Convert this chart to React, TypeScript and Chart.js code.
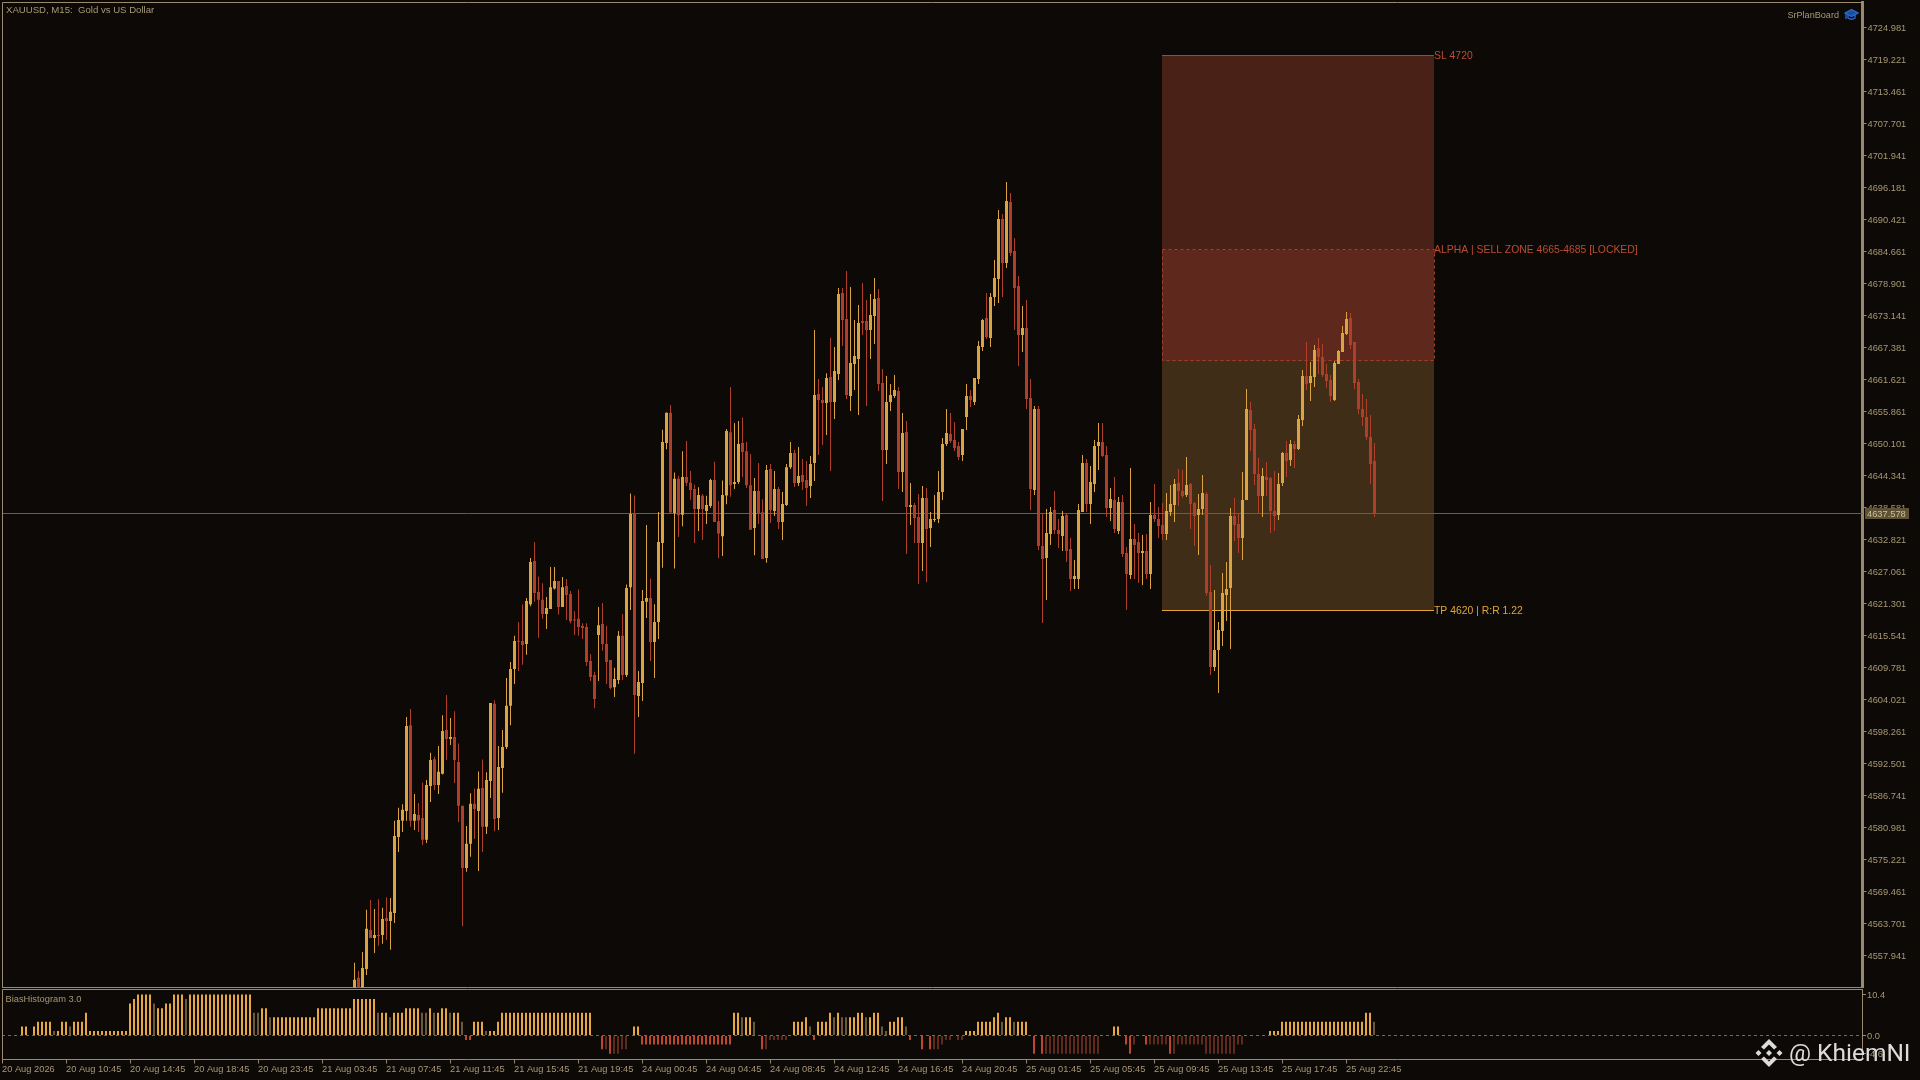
import React, { useEffect, useRef } from "react";
import { Chart, registerables } from "chart.js";

Chart.register(...registerables);

// ---------- data ----------
const slotCount = 466;
const firstCandleIndex = 88;

const timeLabels = [
  "20 Aug 2026", "20 Aug 10:45", "20 Aug 14:45", "20 Aug 18:45", "20 Aug 23:45", "21 Aug 03:45",
  "21 Aug 07:45", "21 Aug 11:45", "21 Aug 15:45", "21 Aug 19:45", "24 Aug 00:45", "24 Aug 04:45",
  "24 Aug 08:45", "24 Aug 12:45", "24 Aug 16:45", "24 Aug 20:45", "25 Aug 01:45", "25 Aug 05:45",
  "25 Aug 09:45", "25 Aug 13:45", "25 Aug 17:45", "25 Aug 22:45",
];
const barsPerTimeLabel = 16;

const priceTicks = [
  4724.981, 4719.221, 4713.461, 4707.701, 4701.941, 4696.181, 4690.421, 4684.661, 4678.901, 4673.141,
  4667.381, 4661.621, 4655.861, 4650.101, 4644.341, 4638.581, 4632.821, 4627.061, 4621.301, 4615.541,
  4609.781, 4604.021, 4598.261, 4592.501, 4586.741, 4580.981, 4575.221, 4569.461, 4563.701, 4557.941,
];
const biasTicks = [10.4, 0, -4.62];

const highs = [
  4556.63,4555.13,4558.55,4566.16,4567.94,4566.30,4568.08,4566.52,4568.44,4568.30,
  4582.18,4584.52,4585.16,4600.89,4602.32,4587.02,4585.38,4589.08,4589.51,4594.42,
  4593.71,4595.63,4601.18,4604.81,4600.68,4601.89,4596.12,4584.88,4581.25,4587.16,
  4588.01,4591.07,4593.21,4590.93,4603.38,4603.88,4595.63,4598.55,4607.87,4610.79,
  4615.48,4617.97,4621.10,4622.31,4629.50,4632.35,4626.16,4624.95,4622.46,4627.87,
  4627.87,4625.37,4626.09,4625.73,4623.53,4619.90,4623.81,4617.76,4617.76,4612.21,
  4609.01,4620.68,4621.39,4617.26,4611.14,4609.72,4616.34,4619.40,4624.73,4641.10,
  4640.75,4609.15,4623.74,4635.41,4625.80,4621.18,4637.76,4652.56,4655.69,4657.05,
  4644.88,4644.24,4648.72,4650.57,4645.16,4642.74,4642.24,4641.03,4640.68,4643.74,
  4646.80,4639.75,4643.45,4652.70,4660.25,4653.77,4654.13,4654.77,4650.36,4648.22,
  4643.88,4646.58,
  4640.05,4646.23,4646.41,4645.15,4642.27,4641.37,4646.41,4650.37,4648.93,4649.47,
  4647.31,4646.95,4647.85,4670.53,4661.71,4660.27,4662.73,4669.09,4667.47,4678.09,
  4678.09,4681.15,4678.27,4672.33,4675.03,4678.99,4675.93,4677.01,4679.89,4677.91,
  4663.51,4662.25,4660.81,4662.43,4660.27,4655.59,4654.15,4642.99,4639.39,4641.01,
  4642.45,4642.09,4637.77,4640.83,4645.15,4651.09,4656.31,4655.59,4653.97,4650.37,
  4652.71,4660.81,4659.73,4661.89,4668.55,4672.51,4677.19,4677.19,4683.13,4692.13,
  4691.41,4697.17,4695.19,4687.09,4680.25,4674.85,4675.93,4661.71,4656.85,4656.85,
  4637.41,4638.31,4638.67,4641.55,4636.51,4637.95,4637.41,4633.09,4629.13,4639.21,
  4648.03,4647.31,4646.05,4650.73,4653.79,4653.79,4649.65,4642.09,4644.07,4640.47,
  4640.83,4631.47,4645.69,4635.61,4633.99,4633.63,4633.81,4639.57,4642.81,4638.67,
  4639.39,4641.19,4642.63,4643.71,4645.51,
  4645.33,4647.67,4642.99,4639.57,4641.01,4644.43,4641.37,4628.23,4623.73,4617.97,
  4626.79,4628.77,4638.49,4640.29,4637.41,4644.97,4659.91,4657.57,4653.61,4647.49,
  4645.69,4646.77,4644.07,4645.15,4644.79,4648.57,4650.55,4650.73,4650.55,4655.23,
  4663.33,4668.37,4664.77,4667.83,4669.09,4668.01,4664.41,4662.43,4664.95,4666.93,
  4671.25,4673.77,4673.59,4668.37,4661.71,4659.01,4658.11,4655.23,4650.19,
];

const lows = [
  4549.0,4549.5,4550.0,4554.42,4561.11,4558.41,4559.69,4560.04,4560.75,4558.97,
  4563.81,4576.55,4580.18,4582.18,4581.11,4580.54,4580.18,4577.83,4578.19,4585.59,
  4587.73,4587.02,4590.50,4593.14,4595.84,4589.01,4581.96,4563.25,4573.00,4575.70,
  4578.90,4573.14,4576.55,4579.83,4586.30,4580.32,4580.54,4587.23,4595.13,4599.40,
  4606.80,4609.15,4610.29,4612.07,4620.82,4621.60,4615.13,4618.54,4616.69,4620.32,
  4623.81,4619.26,4620.68,4618.33,4617.76,4615.63,4615.48,4614.91,4610.07,4607.37,
  4602.46,4607.37,4612.78,4606.80,4605.88,4604.45,4606.80,4607.51,4608.08,4620.11,
  4594.27,4600.89,4603.74,4618.69,4610.93,4607.87,4614.91,4627.72,4649.08,4637.55,
  4627.58,4633.28,4635.20,4642.46,4639.97,4632.21,4634.34,4632.71,4635.62,4638.47,
  4635.98,4629.50,4629.86,4639.18,4640.53,4641.89,4642.81,4644.09,4642.10,4634.56,
  4630.00,4635.62,
  4629.31,4628.65,4635.79,4637.05,4634.71,4632.73,4638.85,4645.51,4642.27,4642.45,
  4641.73,4638.85,4640.29,4643.35,4648.03,4649.83,4651.63,4645.15,4654.51,4661.53,
  4667.65,4658.11,4655.95,4659.73,4655.23,4669.63,4656.85,4665.31,4668.01,4659.55,
  4639.75,4646.41,4655.95,4658.29,4641.91,4641.37,4630.21,4635.43,4632.19,4624.81,
  4627.15,4625.17,4631.47,4635.97,4635.79,4639.93,4649.65,4650.19,4648.75,4647.13,
  4646.95,4652.53,4656.67,4657.03,4660.81,4666.75,4668.91,4667.47,4674.85,4675.39,
  4676.47,4681.69,4683.85,4670.53,4664.05,4666.57,4656.31,4638.13,4640.83,4630.93,
  4617.79,4621.93,4631.83,4633.81,4631.29,4630.75,4628.77,4623.55,4623.91,4623.91,
  4637.77,4637.77,4635.61,4641.37,4645.33,4647.67,4636.87,4636.15,4633.99,4633.81,
  4629.67,4620.13,4625.71,4625.71,4624.99,4624.63,4625.71,4623.91,4635.97,4633.09,
  4632.73,4632.73,4637.05,4635.97,4638.85,
  4640.29,4640.47,4634.71,4631.65,4630.03,4637.23,4622.65,4608.43,4609.15,4605.19,
  4613.65,4618.15,4613.11,4632.55,4630.39,4629.13,4639.93,4648.75,4642.63,4637.53,
  4636.87,4640.65,4633.99,4634.35,4636.33,4642.45,4644.07,4646.05,4645.69,4648.93,
  4653.25,4659.73,4657.75,4660.27,4662.61,4662.07,4660.09,4657.57,4657.75,4664.41,
  4666.57,4669.63,4667.11,4659.91,4655.41,4653.25,4650.73,4642.81,4636.87,
];

const opens = [
  4551.0,4553.92,4551.93,4555.49,4562.53,4561.11,4561.61,4561.61,4564.67,4564.17,
  4565.59,4579.26,4582.18,4583.95,4599.40,4582.18,4583.24,4582.67,4578.76,4588.44,
  4593.28,4588.65,4590.65,4598.55,4596.91,4597.26,4592.78,4584.88,4573.71,4578.05,
  4585.24,4583.95,4588.08,4581.11,4589.37,4603.24,4582.67,4591.71,4595.49,4602.89,
  4609.51,4614.56,4614.56,4613.99,4621.18,4628.93,4623.38,4621.96,4619.40,4620.32,
  4624.02,4625.37,4620.68,4624.45,4623.03,4618.40,4618.54,4617.26,4617.05,4610.93,
  4608.44,4615.63,4617.62,4613.99,4611.14,4606.23,4607.51,4615.48,4608.44,4624.24,
  4637.55,4604.66,4607.01,4621.60,4622.31,4614.35,4617.97,4632.21,4650.21,4655.62,
  4637.55,4643.74,4637.26,4644.09,4643.03,4641.89,4638.33,4640.68,4637.97,4638.83,
  4643.52,4636.12,4633.42,4640.75,4652.14,4642.81,4643.17,4650.21,4648.72,4642.60,
  4634.91,4641.53,
  4637.71,4629.49,4645.51,4637.95,4641.91,4635.97,4639.03,4645.81,4648.39,4642.99,
  4644.43,4643.53,4642.45,4646.59,4659.01,4657.93,4657.39,4662.07,4657.57,4662.61,
  4677.19,4672.51,4658.65,4664.41,4665.31,4672.15,4672.15,4670.53,4673.05,4676.29,
  4660.99,4648.93,4657.57,4658.65,4659.55,4644.97,4652.17,4638.67,4639.03,4636.87,
  4632.19,4640.29,4634.89,4636.33,4636.51,4641.37,4650.01,4651.81,4650.73,4649.65,
  4648.03,4654.87,4658.65,4657.57,4661.71,4667.47,4672.69,4669.09,4676.47,4679.71,
  4690.51,4682.59,4693.57,4684.75,4678.45,4669.63,4670.89,4658.29,4641.73,4656.31,
  4631.65,4629.49,4633.81,4638.13,4634.53,4633.45,4637.23,4631.11,4625.71,4625.71,
  4637.77,4646.59,4639.21,4642.81,4649.65,4650.37,4648.03,4638.49,4639.93,4634.35,
  4639.57,4630.39,4626.43,4632.91,4632.37,4630.39,4630.75,4626.61,4637.23,4636.51,
  4635.43,4633.81,4637.77,4639.03,4642.99,
  4641.55,4640.83,4642.81,4639.39,4637.23,4638.31,4641.01,4623.37,4609.87,4612.93,
  4616.35,4622.83,4624.09,4637.05,4635.61,4633.09,4639.93,4656.13,4652.71,4644.61,
  4640.65,4644.07,4643.89,4637.95,4637.23,4642.99,4648.39,4647.13,4650.01,4649.11,
  4654.33,4662.25,4660.99,4662.07,4667.29,4665.67,4662.61,4661.53,4657.93,4664.41,
  4666.57,4669.81,4672.69,4668.37,4661.17,4656.31,4654.87,4651.27,4646.95,
];

const closes = [
  4553.57,4551.0,4555.70,4562.74,4561.11,4561.61,4561.47,4564.52,4564.17,4565.81,
  4579.47,4582.32,4584.17,4599.26,4582.18,4583.39,4582.25,4578.76,4588.65,4593.14,
  4588.65,4591.00,4598.33,4596.91,4597.26,4593.14,4584.88,4573.71,4578.05,4585.24,
  4584.31,4587.94,4581.11,4589.51,4603.38,4582.53,4591.86,4595.49,4602.89,4609.51,
  4614.56,4614.41,4613.85,4621.75,4628.79,4623.17,4621.96,4619.40,4620.47,4624.24,
  4625.37,4620.68,4624.24,4622.81,4618.12,4618.26,4617.05,4616.91,4610.79,4608.08,
  4604.10,4617.40,4613.99,4610.79,4606.09,4607.73,4615.48,4608.44,4624.09,4637.40,
  4604.81,4607.16,4621.75,4622.31,4614.35,4617.97,4632.35,4650.36,4655.62,4637.69,
  4643.74,4637.19,4644.09,4643.03,4641.75,4638.33,4640.82,4638.33,4639.04,4643.52,
  4635.98,4633.92,4640.82,4652.35,4642.60,4643.17,4650.00,4648.58,4642.60,4634.56,
  4641.53,4637.55,
  4629.31,4645.33,4638.13,4641.91,4635.97,4639.21,4645.81,4648.39,4642.99,4644.25,
  4643.17,4642.09,4646.41,4658.83,4657.93,4657.39,4661.89,4657.57,4663.15,4677.01,
  4672.33,4658.83,4664.59,4665.85,4671.79,4671.79,4670.53,4673.23,4676.11,4660.81,
  4648.93,4657.57,4658.83,4659.73,4644.97,4651.99,4638.67,4639.03,4636.69,4632.19,
  4640.29,4634.71,4636.51,4636.51,4641.37,4650.01,4651.99,4650.55,4649.29,4647.67,
  4652.71,4658.65,4657.93,4661.89,4667.65,4672.33,4669.27,4676.47,4679.89,4690.51,
  4682.59,4693.75,4684.39,4678.09,4669.63,4670.89,4658.11,4641.91,4656.31,4631.65,
  4629.31,4633.99,4637.77,4634.53,4633.81,4637.05,4630.75,4625.71,4626.25,4638.13,
  4646.59,4639.21,4643.17,4649.65,4650.37,4647.85,4638.49,4640.11,4634.71,4639.57,
  4630.21,4626.61,4632.91,4631.83,4630.39,4630.75,4626.61,4637.23,4636.51,4635.25,
  4633.81,4637.95,4639.21,4642.81,4641.55,
  4640.65,4642.63,4639.21,4637.05,4638.31,4641.19,4623.19,4609.87,4612.93,4616.53,
  4623.19,4623.91,4637.05,4635.43,4633.09,4639.93,4656.31,4652.53,4644.61,4640.65,
  4644.25,4643.53,4637.95,4637.05,4642.81,4648.39,4646.95,4650.01,4649.11,4654.51,
  4662.25,4660.81,4662.25,4666.93,4665.67,4662.43,4661.35,4658.65,4664.59,4666.75,
  4669.99,4672.51,4667.83,4660.99,4656.31,4654.87,4651.27,4646.41,4637.41,
];

const biasValues = [
  0,0,0,0,0,2.31,2.31,0,2.31,3.47,3.47,3.47,3.47,1.16,1.16,3.47,
  3.47,2.31,3.47,3.47,3.47,5.78,1.16,1.16,1.16,1.16,1.16,1.16,1.16,1.16,1.16,1.16,
  8.09,9.24,10.4,10.4,10.4,10.4,8.09,6.93,6.93,8.09,8.09,10.4,10.4,10.4,9.24,10.4,
  10.4,10.4,10.4,10.4,10.4,10.4,10.4,10.4,10.4,10.4,10.4,10.4,10.4,10.4,10.4,5.78,
  5.78,6.93,6.93,4.62,4.62,4.62,4.62,4.62,4.62,4.62,4.62,4.62,4.62,4.62,4.62,6.93,
  6.93,6.93,6.93,6.93,6.93,6.93,6.93,6.93,9.24,9.24,9.24,9.24,9.24,9.24,5.78,5.78,
  5.78,4.62,5.78,5.78,5.78,6.93,6.93,6.93,6.93,5.78,5.78,6.93,5.78,5.78,6.93,6.93,
  5.78,5.78,5.78,3.47,-1.16,-1.16,3.47,3.47,3.47,1.16,1.16,1.16,3.47,5.78,5.78,5.78,
  5.78,5.78,5.78,5.78,5.78,5.78,5.78,5.78,5.78,5.78,5.78,5.78,5.78,5.78,5.78,5.78,
  5.78,5.78,5.78,5.78,0,0,-3.47,-3.47,-4.62,-4.62,-4.62,-3.47,-3.47,0,2.31,2.31,
  -2.31,-2.31,-2.31,-2.31,-2.31,-2.31,-2.31,-2.31,-2.31,-2.31,-2.31,-2.31,-2.31,-2.31,-2.31,-2.31,
  -2.31,-2.31,-2.31,-2.31,-2.31,-2.31,-2.31,5.78,5.78,4.62,4.62,4.62,3.47,0,-3.47,-3.47,
  -1.16,-1.16,-1.16,-1.16,-1.16,0,3.47,3.47,3.47,4.62,2.31,-1.16,3.47,3.47,3.47,5.78,
  4.62,5.78,4.62,4.62,4.62,4.62,5.78,5.78,4.62,4.62,5.78,5.78,2.31,1.16,3.47,3.47,
  4.62,4.62,2.31,-1.16,0,0,-3.47,0,-3.47,-3.47,-3.47,-2.31,-1.16,-1.16,0,-1.16,
  -1.16,1.16,1.16,1.16,3.47,3.47,3.47,3.47,4.62,5.78,3.47,4.62,4.62,3.47,3.47,3.47,
  3.47,0,-4.62,0,-4.62,-4.62,-4.62,-4.62,-4.62,-4.62,-4.62,-4.62,-4.62,-4.62,-4.62,-4.62,
  -4.62,-4.62,-4.62,0,0,0,2.31,2.31,0,-2.31,-4.62,-2.31,0,0,-2.31,-2.31,
  -2.31,-2.31,-2.31,-2.31,-4.62,-4.62,-2.31,-2.31,-2.31,-2.31,-2.31,-2.31,-2.31,-4.62,-4.62,-4.62,
  -4.62,-4.62,-4.62,-4.62,-4.62,-2.31,-2.31,0,0,0,0,0,0,1.16,1.16,1.16,
  3.47,3.47,3.47,3.47,3.47,3.47,3.47,3.47,3.47,3.47,3.47,3.47,3.47,3.47,3.47,3.47,
  3.47,3.47,3.47,3.47,3.47,5.78,5.78,3.47,
];

const biasMutedBars = [
  13,17,38,46,63,64,67,94,97,105,106,108,112,115,121,151,153,154,155,156,185,188,191,192,193,194,195,196,
  202,208,210,211,216,220,221,226,233,234,235,236,237,239,240,250,253,261,262,263,264,265,266,267,268,269,
  270,271,272,273,274,283,287,288,289,290,291,293,294,295,296,297,298,299,300,301,302,303,304,305,306,307,
  308,309,310,343,
];

const lastPrice = 4637.578;
const planFromIndex = 290;
const planToIndex = 358;
const slPrice = 4720;
const sellZoneHigh = 4685;
const sellZoneLow = 4665;
const tpPrice = 4620;

// ---------- styles ----------
const BG = "#0c0906";
const FRAME = "#9a896c";
const AXIS_TEXT = "#a89876";
const AMBER = "#d9a441";
const RED = "#ae3f2a";
const FONT = '"Liberation Sans", Arial, sans-serif';
const categories = Array.from({ length: slotCount }, (_, i) => String(i));

const pad = (rows: (any | null)[]) =>
  Array.from({ length: slotCount }, (_, i) => {
    const k = i - firstCandleIndex;
    return k >= 0 && k < rows.length ? rows[k] : null;
  });

const candleColors = pad(opens.map((o, i) => (closes[i] >= o ? AMBER : RED)));

const resetPadding = (s: any) => {
  s.paddingTop = 0;
  s.paddingBottom = 0;
  s.paddingLeft = 0;
  s.paddingRight = 0;
};

function drawCap(ctx: CanvasRenderingContext2D) {
  ctx.save();
  ctx.strokeStyle = "#2a6ed2";
  ctx.fillStyle = "#1d4f9c";
  ctx.lineWidth = 1.3;
  ctx.beginPath();
  ctx.moveTo(1845, 13);
  ctx.lineTo(1851.5, 9.5);
  ctx.lineTo(1858, 13);
  ctx.lineTo(1851.5, 16.5);
  ctx.closePath();
  ctx.fill();
  ctx.stroke();
  ctx.beginPath();
  ctx.moveTo(1848, 15);
  ctx.lineTo(1848, 18);
  ctx.quadraticCurveTo(1851.5, 20.5, 1855, 18);
  ctx.lineTo(1855, 15);
  ctx.moveTo(1846, 13.5);
  ctx.lineTo(1846, 19);
  ctx.stroke();
  ctx.restore();
}

const mainPlugin = {
  id: "mainOverlay",
  beforeDatasetsDraw(chart: any) {
    const { ctx, scales, chartArea } = chart;
    const x = (v: number) => Math.floor(scales.x.getPixelForValue(v));
    const y = (v: number) => Math.round(scales.y.getPixelForValue(v));
    const l = x(planFromIndex);
    const r = x(planToIndex);
    const band = (a: number, b: number, c: string) => {
      ctx.fillStyle = c;
      ctx.fillRect(l, y(a), r - l, y(b) - y(a));
    };
    ctx.save();
    band(slPrice, sellZoneHigh, "#4a2117");
    band(sellZoneHigh, sellZoneLow, "#5e281c");
    band(sellZoneLow, tpPrice, "#402d17");
    ctx.lineWidth = 1;
    ctx.strokeStyle = "#a5452f";
    ctx.beginPath();
    ctx.moveTo(l, y(slPrice) + 0.5);
    ctx.lineTo(r, y(slPrice) + 0.5);
    ctx.stroke();
    ctx.strokeStyle = "#e0a53e";
    ctx.beginPath();
    ctx.moveTo(l, y(tpPrice) - 0.5);
    ctx.lineTo(r, y(tpPrice) - 0.5);
    ctx.stroke();
    ctx.strokeStyle = "#a5402c";
    ctx.setLineDash([3, 3]);
    ctx.strokeRect(l + 0.5, y(sellZoneHigh) - 0.5, r - l, y(sellZoneLow) - y(sellZoneHigh));
    ctx.setLineDash([]);
    ctx.strokeStyle = "#6e5e40";
    ctx.beginPath();
    const ly = y(lastPrice) + 0.5;
    ctx.moveTo(chartArea.left, ly);
    ctx.lineTo(chartArea.right, ly);
    ctx.stroke();
    ctx.restore();
  },
  afterDraw(chart: any) {
    const { ctx, scales, chartArea } = chart;
    const r = Math.floor(scales.x.getPixelForValue(planToIndex));
    const y = (v: number) => scales.y.getPixelForValue(v);
    ctx.save();
    ctx.strokeStyle = FRAME;
    ctx.lineWidth = 1;
    ctx.beginPath();
    ctx.moveTo(chartArea.left, chartArea.bottom);
    ctx.lineTo(chartArea.left, chartArea.top);
    ctx.lineTo(chartArea.right, chartArea.top);
    ctx.stroke();
    ctx.textBaseline = "middle";
    ctx.textAlign = "left";
    ctx.font = `10.4px ${FONT}`;
    ctx.fillStyle = "#bd4c34";
    ctx.fillText("SL 4720", r, y(slPrice) + 1);
    ctx.fillText("ALPHA | SELL ZONE 4665-4685 [LOCKED]", r, y(sellZoneHigh) + 1);
    ctx.fillStyle = "#e0a53e";
    ctx.fillText("TP 4620 | R:R 1.22", r, y(tpPrice));
    ctx.font = `9.6px ${FONT}`;
    ctx.fillStyle = AXIS_TEXT;
    ctx.fillText("XAUUSD, M15:  Gold vs US Dollar", 6, 10);
    ctx.font = `9.1px ${FONT}`;
    ctx.textAlign = "right";
    ctx.fillText("SrPlanBoard", 1839, 15);
    drawCap(ctx);
    const py = Math.round(y(lastPrice));
    ctx.fillStyle = "#5f5136";
    ctx.fillRect(1865, py - 5, 44, 11);
    ctx.fillStyle = "#cdbf9c";
    ctx.textAlign = "left";
    ctx.font = `9.3px ${FONT}`;
    ctx.fillText(lastPrice.toFixed(3), 1867, py + 1);
    ctx.restore();
  },
};

function drawBinance(ctx: CanvasRenderingContext2D, cx: number, cy: number) {
  const diamond = (dx: number, dy: number, s: number) => {
    ctx.beginPath();
    ctx.moveTo(cx + dx, cy + dy - s);
    ctx.lineTo(cx + dx + s, cy + dy);
    ctx.lineTo(cx + dx, cy + dy + s);
    ctx.lineTo(cx + dx - s, cy + dy);
    ctx.closePath();
    ctx.fill();
  };
  const chevron = (sign: number) => {
    ctx.beginPath();
    ctx.moveTo(cx, cy + sign * 14);
    ctx.lineTo(cx + 8, cy + sign * 6);
    ctx.lineTo(cx + 5, cy + sign * 3.5);
    ctx.lineTo(cx, cy + sign * 8.5);
    ctx.lineTo(cx - 5, cy + sign * 3.5);
    ctx.lineTo(cx - 8, cy + sign * 6);
    ctx.closePath();
    ctx.fill();
  };
  chevron(-1);
  chevron(1);
  diamond(0, 0, 3);
  diamond(-10.5, 0, 3);
  diamond(10.5, 0, 3);
}

const subPlugin = {
  id: "subOverlay",
  beforeDatasetsDraw(chart: any) {
    const { ctx, scales, chartArea } = chart;
    const zero = Math.round(scales.y.getPixelForValue(0)) + 0.5;
    ctx.save();
    ctx.strokeStyle = "#7a6b50";
    ctx.lineWidth = 1;
    ctx.setLineDash([3, 3]);
    ctx.beginPath();
    ctx.moveTo(chartArea.left, zero);
    ctx.lineTo(chartArea.right, zero);
    ctx.stroke();
    ctx.restore();
  },
  afterDraw(chart: any) {
    const { ctx, chartArea } = chart;
    ctx.save();
    ctx.strokeStyle = FRAME;
    ctx.lineWidth = 1;
    ctx.beginPath();
    ctx.moveTo(chartArea.left + 0.5, chartArea.bottom);
    ctx.lineTo(chartArea.left + 0.5, chartArea.top);
    ctx.lineTo(chartArea.right, chartArea.top);
    ctx.stroke();
    ctx.font = `9.3px ${FONT}`;
    ctx.fillStyle = AXIS_TEXT;
    ctx.textBaseline = "middle";
    ctx.fillText("BiasHistogram 3.0", 5.5, 11.5);
    ctx.fillStyle = "#dcdcdc";
    drawBinance(ctx, 1769, 65);
    ctx.font = `24.5px Roboto, ${FONT}`;
    ctx.fillText("@ KhiemNI", 1789, 67);
    ctx.restore();
  },
};

export default function App() {
  const mainRef = useRef<HTMLCanvasElement>(null);
  const subRef = useRef<HTMLCanvasElement>(null);

  useEffect(() => {
    document.body.style.margin = "0";
    document.body.style.background = BG;

    const main = new Chart(mainRef.current as HTMLCanvasElement, {
      type: "bar",
      plugins: [mainPlugin],
      data: {
        labels: categories,
        datasets: [
          {
            data: pad(lows.map((l, i) => [l, highs[i]])),
            backgroundColor: candleColors,
            barThickness: 1,
            grouped: false,
            inflateAmount: 0,
            borderWidth: 0,
          } as any,
          {
            data: pad(opens.map((o, i) => [o, closes[i]])),
            backgroundColor: candleColors,
            barThickness: 3,
            minBarLength: 1,
            grouped: false,
            inflateAmount: 0,
            borderWidth: 0,
          } as any,
        ],
      },
      options: {
        responsive: false,
        animation: false,
        devicePixelRatio: 1,
        layout: { padding: { top: 2.5, left: 2.5, right: 0, bottom: 0 } },
        plugins: { legend: { display: false }, tooltip: { enabled: false } },
        scales: {
          x: {
            type: "category",
            offset: false,
            grid: { display: false, offset: false },
            border: { display: true, color: FRAME },
            ticks: { display: false, autoSkip: false },
            afterFit: (s: any) => {
              s.height = 0.5;
              resetPadding(s);
            },
          },
          y: {
            type: "linear",
            position: "right",
            min: 4552.181,
            max: 4729.481,
            grid: { drawOnChartArea: false, tickLength: 4, tickColor: FRAME, tickWidth: 1 },
            border: { display: true, color: FRAME, width: 3 },
            afterBuildTicks: (s: any) => {
              s.ticks = priceTicks.map((value) => ({ value }));
            },
            ticks: {
              autoSkip: false,
              color: AXIS_TEXT,
              padding: 1,
              labelOffset: 0.8,
              font: { family: FONT, size: 9.3 },
              callback: (v: any) => Number(v).toFixed(3),
            },
            afterFit: (s: any) => {
              s.width = 57.5;
              resetPadding(s);
            },
          },
        },
      } as any,
    });

    const sub = new Chart(subRef.current as HTMLCanvasElement, {
      type: "bar",
      plugins: [subPlugin],
      data: {
        labels: categories,
        datasets: [
          {
            data: Array.from({ length: slotCount }, (_, i) => (i < biasValues.length ? biasValues[i] : null)),
            backgroundColor: biasValues.map((v, i) => {
              const muted = biasMutedBars.includes(i);
              if (v >= 0) return muted ? "#6b5a3a" : "#e6a83f";
              return muted ? "#5e2a1c" : "#c0452d";
            }),
            barThickness: 2,
            grouped: false,
            inflateAmount: 0,
            borderWidth: 0,
          } as any,
        ],
      },
      options: {
        responsive: false,
        animation: false,
        devicePixelRatio: 1,
        layout: { padding: { top: 1.5, left: 2, right: 0, bottom: 0 } },
        plugins: { legend: { display: false }, tooltip: { enabled: false } },
        scales: {
          x: {
            type: "category",
            offset: false,
            grid: { drawOnChartArea: false, offset: false, tickLength: 4, tickColor: FRAME },
            border: { display: true, color: FRAME },
            afterBuildTicks: (s: any) => {
              s.ticks = s.ticks.filter((t: any) => t.value % barsPerTimeLabel === 0 && t.value / barsPerTimeLabel < timeLabels.length);
            },
            ticks: {
              autoSkip: false,
              maxRotation: 0,
              minRotation: 0,
              align: "start",
              color: AXIS_TEXT,
              padding: 0,
              font: { family: FONT, size: 9.3 },
              callback: (v: any) => timeLabels[Number(v) / barsPerTimeLabel],
            },
            afterFit: (s: any) => {
              s.height = 20.5;
              resetPadding(s);
            },
          },
          y: {
            type: "linear",
            position: "right",
            min: -6.088,
            max: 11.668,
            grid: { drawOnChartArea: false, tickLength: 4, tickColor: FRAME },
            border: { display: true, color: FRAME },
            afterBuildTicks: (s: any) => {
              s.ticks = biasTicks.map((value) => ({ value }));
            },
            ticks: {
              autoSkip: false,
              color: AXIS_TEXT,
              padding: 1,
              labelOffset: 0.8,
              font: { family: FONT, size: 9.3 },
              callback: (v: any) => Number(v).toFixed(1),
            },
            afterFit: (s: any) => {
              s.width = 58;
              resetPadding(s);
            },
          },
        },
      } as any,
    });

    return () => {
      main.destroy();
      sub.destroy();
    };
  }, []);

  return (
    <div style={{ position: "relative", width: 1920, height: 1080, background: BG, overflow: "hidden" }}>
      <canvas ref={mainRef} width={1920} height={988} style={{ position: "absolute", left: 0, top: 0, display: "block" }} />
      <canvas ref={subRef} width={1920} height={92} style={{ position: "absolute", left: 0, top: 988, display: "block" }} />
    </div>
  );
}
